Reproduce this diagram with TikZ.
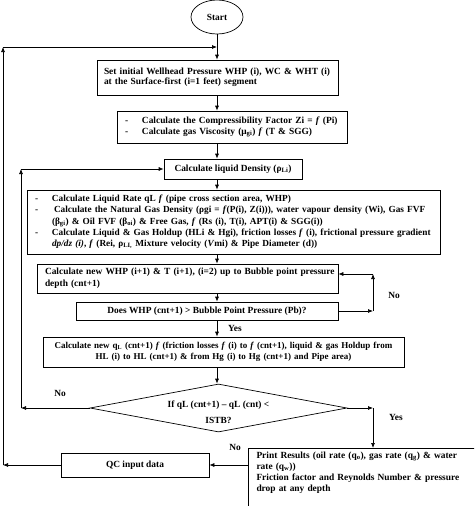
\documentclass[tikz,border=0pt]{standalone}
\usepackage{fontspec}
\setmainfont{Liberation Serif}
\usetikzlibrary{shapes.geometric,arrows.meta}
\newcommand\dashitem{\makebox[17pt][l]{-}}
\newcommand\indt{\hspace*{17pt}}
\newcommand\sub[1]{\textsubscript{#1}}
\newcommand\oneline[1]{\mbox{#1}}
\begin{document}
\begin{tikzpicture}[x=1pt,y=-1pt,
  every node/.style={font=\bfseries\fontsize{9.4}{11}\selectfont},
  box/.style={draw,line width=0.7pt,inner xsep=8pt,inner ysep=0pt,align=left},
  cbox/.style={draw,line width=0.7pt,inner sep=0pt,align=center},
  lbl/.style={inner sep=0pt},
  arr/.style={line width=0.7pt,-{Latex[length=5pt,width=4pt]}}
]
\clip (0,0) rectangle (474,506);
\fill[white] (0,0) rectangle (474,506);

% nodes
\node[draw,ellipse,line width=0.7pt,minimum width=52,minimum height=34,inner sep=0pt] (start) at (217,17) {Start};

\node[box,inner xsep=7pt,text width=227,minimum height=35,font=\bfseries\fontsize{9.4}{10.5}\selectfont] (b1) at (217.5,77.5)
 {\oneline{Set initial Wellhead Pressure WHP (i), WC \& WHT (i)}\\\oneline{at the Surface-first (i=1 feet) segment}};

\node[box,text width=214,minimum height=32] (b2) at (232,127)
 {\oneline{\dashitem Calculate the Compressibility Factor Zi = \textit{f} (Pi)}\\
  \oneline{\dashitem Calculate gas Viscosity (μ\sub{gi}) \textit{f} (T \& SGG)}};

\node[cbox,minimum width=138,minimum height=20] (b3) at (233,169)
 {Calculate liquid Density (ρ\sub{Li})};

\node[box,text width=397,minimum height=64,font=\bfseries\fontsize{9.3}{11.3}\selectfont] (b4) at (233.5,222)
 {\oneline{\dashitem Calculate Liquid Rate qL \textit{f} (pipe cross section area, WHP)}\\
  \oneline{\dashitem\hspace{2pt}Calculate the Natural Gas Density (ρgi = \textit{f}(P(i), Z(i))), water vapour density (Wi), Gas FVF}\\
  \oneline{\indt(β\sub{gi}) \& Oil FVF (β\sub{oi}) \& Free Gas, \textit{f} (Rs (i), T(i), APT(i) \& SGG(i))}\\
  \oneline{\dashitem Calculate Liquid \& Gas Holdup (HLi \& Hgi), friction losses \textit{f} (i), frictional pressure gradient}\\
  \oneline{\indt\textit{dp/dz (i)}, \textit{f} (Rei, ρ\sub{LI,} Mixture velocity (\textit{V}mi) \& Pipe Diameter (d))}};

\node[box,text width=285,minimum height=29,font=\bfseries\fontsize{9.4}{12}\selectfont] (b5) at (187.5,278.5)
 {\oneline{Calculate new WHP (i+1) \& T (i+1), (i=2) up to Bubble point pressure}\\\oneline{depth (cnt+1)}};

\node[cbox,minimum width=262,minimum height=18] (b6) at (207,311)
 {Does WHP (cnt+1) > Bubble Point Pressure (Pb)?};

\node[cbox,text width=361,minimum height=30,font=\bfseries\fontsize{9.0}{11}\selectfont] (b7) at (223.5,352)
 {\oneline{Calculate new q\sub{L} (cnt+1) \textit{f} (friction losses \textit{f} (i) to \textit{f} (cnt+1), liquid \& gas Holdup from}\\
  \oneline{HL (i) to HL (cnt+1) \& from Hg (i) to Hg (cnt+1) and Pipe area)}};

\node[draw,diamond,aspect=5.35,minimum width=257,minimum height=48,inner sep=0pt,line width=0.7pt,
  label={[align=center,yshift=-4.5pt,font=\bfseries\fontsize{9.4}{11}\selectfont]center:If qL (cnt+1) – qL (cnt) <\\[5pt]ISTB?}] (d) at (218.5,408) {};

\node[cbox,minimum width=148,minimum height=24] (qc) at (135,465) {QC input data};

\node[box,anchor=north,text width=212,inner ysep=4pt] (pr) at (362.5,448)
 {\oneline{Print Results (oil rate (q\sub{o}), gas rate (q\sub{g}) \& water}\\
  \oneline{rate (q\sub{w}))}\\
  \oneline{Friction factor and Reynolds Number \& pressure}\\
  \oneline{drop at any depth}\rule[-30pt]{0pt}{0pt}};

% labels
\node[lbl] (no1) at (394,295) {No};
\node[lbl] (yes1) at (235,328) {Yes};
\node[lbl] (no2) at (60,393) {No};
\node[lbl] (yes2) at (396,417) {Yes};
\node[lbl] (no3) at (235,447) {No};

% corner coordinates
\coordinate (cO1) at (3,465);
\coordinate (cO2) at (3,47);
\coordinate (cI1) at (21,408);
\coordinate (cI2) at (21,169);
\coordinate (cN1) at (373,311);
\coordinate (cN2) at (373,274);
\coordinate (cY1) at (373,408);

% main flow
\draw[arr] (start) -- (start |- b1.north);
\draw[arr] (start |- b1.south) -- (start |- b2.north);
\draw[arr] (start |- b2.south) -- (start |- b3.north);
\draw[arr] (start |- b3.south) -- (start |- b4.north);
\draw[arr] (start |- b4.south) -- (start |- b5.north);
\draw[arr] (start |- b5.south) -- (start |- b6.north);
\draw[arr] (start |- b6.south) -- (start |- b7.north);
\draw[arr] (start |- b7.south) -- (start |- d.north);

% no loop bubble point
\draw[arr] (b6.east) -- (cN1);
\draw[arr] (cN1) -- (cN2);
\draw[arr] (cN2) -- (b5.east |- cN2);

% diamond yes
\draw[arr] (d.east) -- (cY1);
\draw[arr] (cY1) -- (cY1 |- pr.north);

% diamond no loop
\draw[arr] (d.west) -- (cI1);
\draw[arr] (cI1) -- (cI2);
\draw[arr] (cI2) -- (b3.west);

% print -> qc
\draw[arr] (pr.west |- qc.east) -- (qc.east);

% outer loop
\draw[arr] (qc.west) -- (cO1);
\draw[arr] (cO1) -- (cO2);
\draw[arr] (cO2) -- (start |- cO2);
\end{tikzpicture}
\end{document}
